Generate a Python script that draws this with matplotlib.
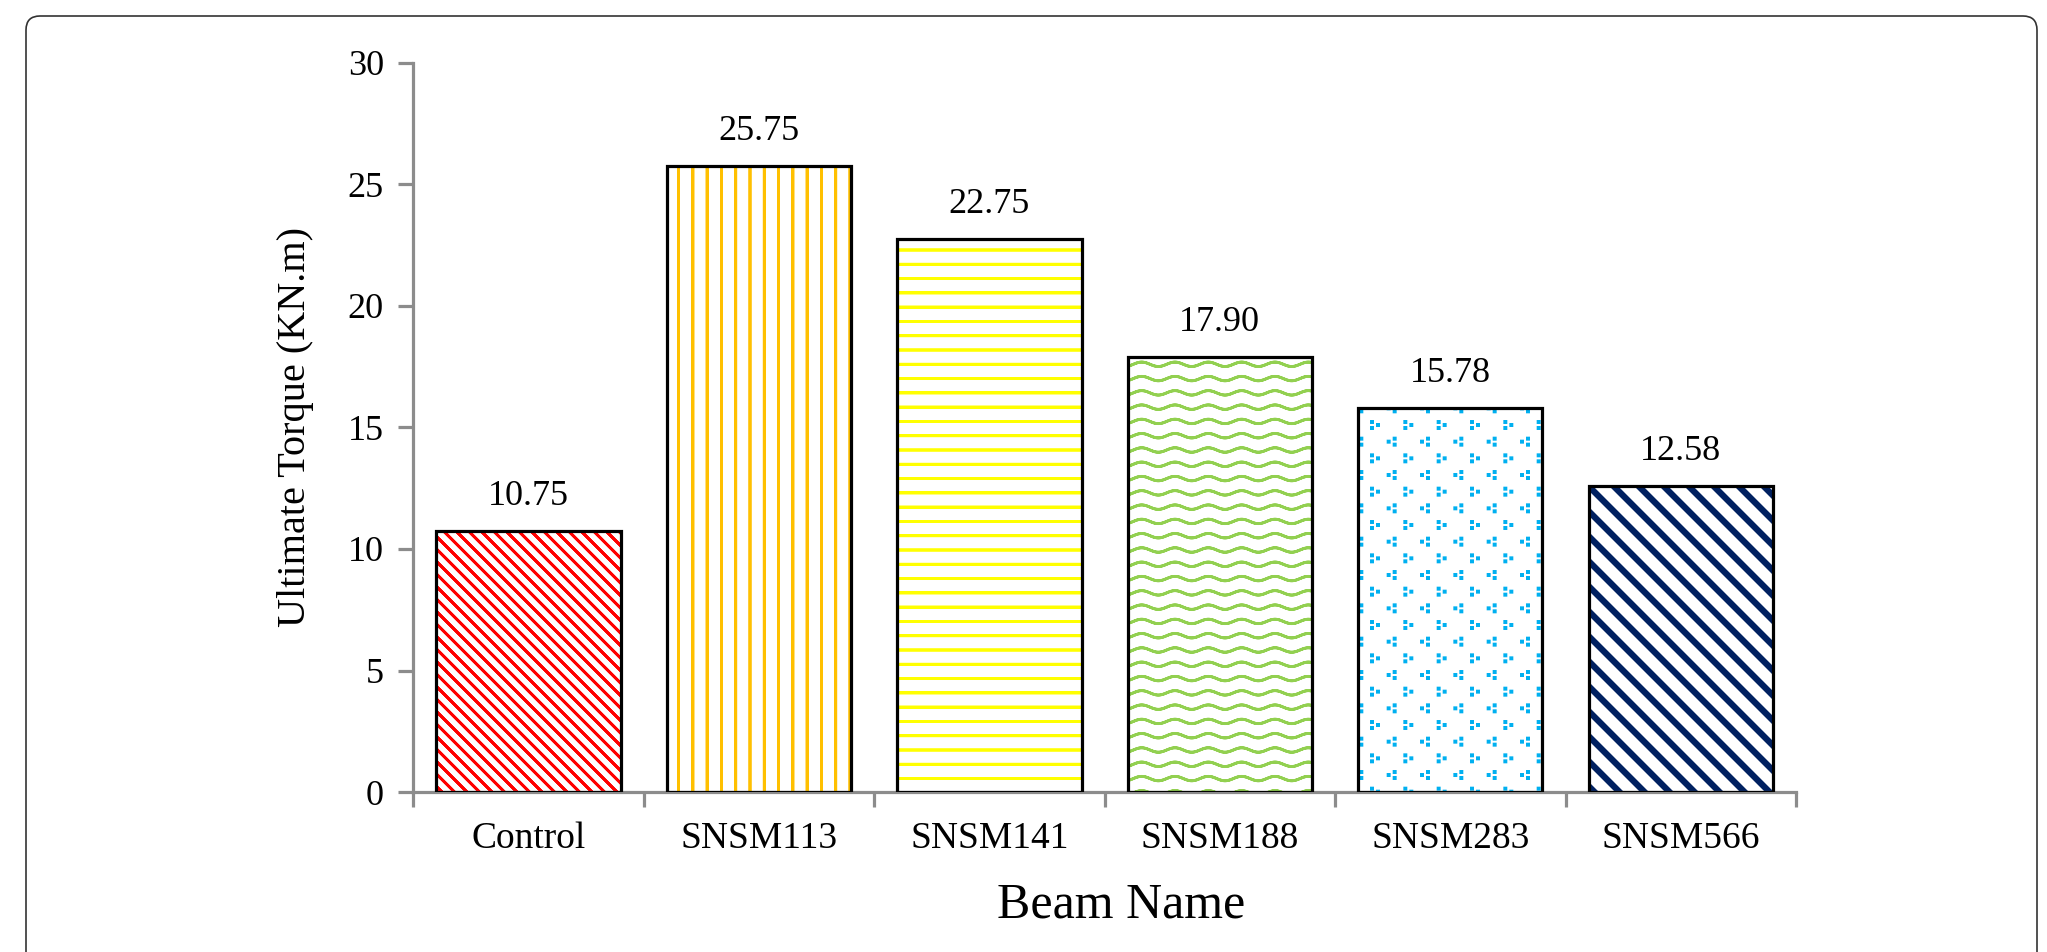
import warnings
import numpy as np
import matplotlib
matplotlib.use('Agg')
import matplotlib.pyplot as plt
import matplotlib.hatch as mhatch
from matplotlib.path import Path
from matplotlib.patches import FancyBboxPatch

warnings.filterwarnings('ignore')

# Data
beams = ['Control', 'SNSM113', 'SNSM141', 'SNSM188', 'SNSM283', 'SNSM566']
torque = [10.75, 25.75, 22.75, 17.90, 15.78, 12.58]
colors = ['#FF0000', '#FFC000', '#FFFF00', '#92D050', '#00B0F0', '#002060']
hatches = ['r', 'v', 'h', 'w', 'd', 'n']
yticks = [0, 5, 10, 15, 20, 25, 30]


# --- custom fill textures (Excel style pattern fills) ---
def _shape(pts, closed=False):
    pts = np.asarray(pts, float)
    if closed:
        verts = np.vstack([pts, pts[:1]])
        codes = [Path.MOVETO] + [Path.LINETO] * (len(pts) - 1) + [Path.CLOSEPOLY]
    else:
        # retrace the line so the agg fill pass adds no area
        verts = np.vstack([pts, pts[-2::-1]])
        codes = [Path.MOVETO] + [Path.LINETO] * (len(verts) - 1)
    return verts, np.array(codes, dtype=Path.code_type)


def diag_lines(n):
    return [_shape([(-1, k / n + 1), (2, k / n - 2)]) for k in range(-1, 2 * n + 2)]


def diag_bands(n, w):
    # bands run well past the tile so the clipped tile edges meet cleanly
    return [_shape([(-1, k / n + 1), (-1 + w, k / n + 1), (2 + w, k / n - 2), (2, k / n - 2)],
                   closed=True)
            for k in range(-1, 2 * n + 2)]


def vert_lines(n):
    return [_shape([((i + 0.5) / n, -0.5), ((i + 0.5) / n, 1.5)]) for i in range(n)]


def horiz_lines(n):
    return [_shape([(-0.5, (j + 0.5) / n), (1.5, (j + 0.5) / n)]) for j in range(n)]


def waves(rows, periods, amp):
    t = np.linspace(-0.5, 1.5, 241)
    out = []
    for j in range(rows):
        y0 = (j + 0.5) / rows
        out.append(_shape(np.column_stack([t, y0 + amp * np.sin(2 * np.pi * periods * t)])))
    return out


def dot_groups(cols, rows, d, s):
    out = []
    for j in range(rows):
        yc = (j + 0.5) / rows
        right = j % 2 == 0
        for i in range(cols):
            xc = (i + (0.25 if right else 0.75)) / cols
            sgn = 1 if right else -1
            for dx, dy in [(-sgn * d, d), (sgn * d, 0), (-sgn * d, -d)]:
                x, y = xc + dx - s / 2, yc + dy - s / 2
                out.append(_shape([(x, y), (x + s, y), (x + s, y + s), (x, y + s)], closed=True))
    return out


TEXTURES = {
    'r': lambda: diag_lines(8),
    'v': lambda: vert_lines(7),
    'h': lambda: horiz_lines(7),
    'w': lambda: waves(7, 3, 0.022),
    'd': lambda: dot_groups(3, 6, 0.03, 0.012),
    'n': lambda: diag_bands(4, 0.05),
}


class TextureHatch(mhatch.HatchPatternBase):
    def __init__(self, hatch, density):
        self.shapes = []
        for ch in hatch:
            if ch in TEXTURES:
                self.shapes += TEXTURES[ch]()
        self.num_vertices = sum(len(v) for v, _ in self.shapes)

    def set_vertices_and_codes(self, vertices, codes):
        i = 0
        for v, c in self.shapes:
            vertices[i:i + len(v)] = v
            codes[i:i + len(v)] = c
            i += len(v)


mhatch._hatch_types.append(TextureHatch)

plt.rcParams['font.family'] = 'Liberation Serif'
plt.rcParams['hatch.linewidth'] = 2.0

fig = plt.figure(figsize=(20.47, 9.52), dpi=100)
ax = fig.add_axes([0.2018, 0.168, 0.6756, 0.766])

x = np.arange(len(beams))
# texture layer, then black outline on top
ax.bar(x, torque, width=0.8, color='white', edgecolor=colors, linewidth=0, hatch=hatches, zorder=2)
ax.bar(x, torque, width=0.8, fill=False, edgecolor='black', linewidth=2.3, zorder=3)

for xi, v in zip(x, torque):
    ax.annotate(f'{v:.2f}', (xi, v), xytext=(0, 13), textcoords='offset points',
                ha='center', va='bottom', fontsize=26)

axis_gray = '#8C8C8C'
ax.set_xlim(-0.5, len(beams) - 0.5)
ax.set_ylim(0, 30)
ax.set_yticks(yticks)
ax.set_xticks(x)
ax.set_xticklabels(beams)
ax.set_xticks(np.arange(-0.5, len(beams), 1), minor=True)

for side in ['top', 'right']:
    ax.spines[side].set_visible(False)
for side in ['left', 'bottom']:
    ax.spines[side].set_color(axis_gray)
    ax.spines[side].set_linewidth(2.3)

ax.tick_params(axis='y', direction='out', length=11, width=2.3, color=axis_gray, labelsize=26, pad=10)
ax.tick_params(axis='x', which='major', length=0, labelsize=27, pad=21)
ax.tick_params(axis='x', which='minor', direction='out', length=11, width=2.3, color=axis_gray)

ax.set_xlabel('Beam Name', fontsize=36, labelpad=19, x=0.512)
ax.set_ylabel('Ultimate Torque (KN.m)', fontsize=29, labelpad=24)

# rounded frame around the figure
frame = FancyBboxPatch((0.26, -0.5), 20.11, 9.86, boxstyle='round,pad=0,rounding_size=0.14',
                       transform=fig.dpi_scale_trans, fill=False, edgecolor='#333333', linewidth=1.2)
fig.add_artist(frame)

plt.savefig('out.png', dpi=100)
